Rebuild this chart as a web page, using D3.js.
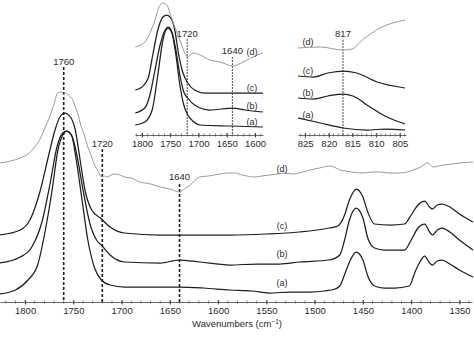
<!DOCTYPE html>
<html><head><meta charset="utf-8">
<script src="https://cdn.jsdelivr.net/npm/d3@7"></script>
<style>
html,body{margin:0;padding:0;background:#fff;}
svg{display:block;}
text{font-family:"Liberation Sans",Arial,Helvetica,sans-serif;fill:#2a2a2a;}
</style></head>
<body>
<svg id="c" width="474" height="339"></svg>
<script>
// ---------- DATA (wavenumber cm^-1, absorbance a.u.) ----------
const mainTicks = [1800,1750,1700,1650,1600,1550,1500,1450,1400,1350];
const inset1Ticks = [1800,1750,1700,1650,1600];
const inset2Ticks = [825,820,815,810,805];
const seriesNames = ["(a)","(b)","(c)","(d)"];
const mainMarkers = [1760,1720,1640];
const inset1Markers = [1720,1640];
const inset2Markers = [817];

const mainA = [[1826,0.06],[1810,0.10],[1797,0.20],[1787,0.35],[1779,0.70],[1772,1.10],[1766,1.50],[1761,1.65],[1757,1.69],[1752,1.65],[1747,1.40],[1741,1.00],[1735,0.60],[1728,0.32],[1721,0.20],[1712,0.15],[1697,0.13],[1670,0.13],[1640,0.13],[1615,0.12],[1588,0.10],[1565,0.09],[1547,0.07],[1525,0.08],[1505,0.08],[1490,0.09],[1479,0.11],[1474,0.14],[1468,0.28],[1463,0.40],[1457,0.48],[1450,0.40],[1445,0.24],[1438,0.14],[1428,0.12],[1417,0.12],[1402,0.14],[1396,0.28],[1391,0.38],[1386,0.44],[1381,0.37],[1378,0.35],[1373,0.39],[1368,0.40],[1360,0.36],[1350,0.30],[1336,0.23]];
const mainB = [[1826,0.37],[1805,0.43],[1793,0.53],[1782,0.80],[1774,1.17],[1767,1.53],[1761,1.67],[1757,1.69],[1751,1.63],[1746,1.43],[1740,1.10],[1733,0.77],[1726,0.60],[1721,0.55],[1712,0.45],[1697,0.38],[1660,0.37],[1640,0.40],[1619,0.38],[1588,0.35],[1560,0.36],[1536,0.36],[1516,0.38],[1485,0.40],[1474,0.45],[1469,0.60],[1464,0.80],[1457,0.92],[1450,0.82],[1445,0.62],[1438,0.52],[1428,0.50],[1407,0.50],[1400,0.60],[1393,0.72],[1386,0.76],[1381,0.68],[1378,0.65],[1373,0.70],[1368,0.72],[1360,0.68],[1350,0.60],[1336,0.50]];
const mainC = [[1826,0.65],[1805,0.70],[1795,0.80],[1785,1.07],[1776,1.43],[1769,1.70],[1764,1.83],[1759,1.87],[1753,1.83],[1748,1.70],[1743,1.40],[1738,1.10],[1731,0.90],[1722,0.82],[1712,0.73],[1697,0.67],[1660,0.65],[1620,0.65],[1588,0.65],[1550,0.66],[1516,0.68],[1485,0.72],[1476,0.74],[1469,0.85],[1464,1.00],[1457,1.11],[1450,1.03],[1445,0.88],[1438,0.76],[1422,0.75],[1407,0.76],[1400,0.85],[1393,0.95],[1386,0.99],[1381,0.93],[1378,0.91],[1373,0.95],[1368,0.96],[1360,0.93],[1350,0.86],[1336,0.78]];
const mainD = [[1826,1.37],[1815,1.39],[1805,1.42],[1797,1.46],[1790,1.53],[1784,1.62],[1779,1.73],[1775,1.82],[1771,1.93],[1766,2.07],[1762,2.08],[1760,2.05],[1759,2.07],[1756,2.06],[1753,2.03],[1750,1.99],[1748,1.93],[1745,1.85],[1743,1.77],[1739,1.66],[1735,1.53],[1731,1.43],[1728,1.35],[1724,1.28],[1721,1.23],[1718,1.24],[1715,1.23],[1711,1.25],[1707,1.26],[1702,1.25],[1697,1.23],[1690,1.22],[1681,1.18],[1670,1.16],[1660,1.13],[1650,1.11],[1640,1.08],[1635,1.11],[1629,1.15],[1619,1.23],[1610,1.24],[1598,1.26],[1590,1.27],[1583,1.27],[1575,1.25],[1562,1.23],[1555,1.24],[1547,1.25],[1538,1.26],[1531,1.27],[1522,1.26],[1516,1.27],[1505,1.30],[1495,1.32],[1485,1.34],[1480,1.33],[1474,1.30],[1468,1.29],[1462,1.28],[1450,1.27],[1440,1.28],[1433,1.28],[1422,1.27],[1412,1.27],[1404,1.28],[1398,1.30],[1390,1.33],[1383,1.37],[1377,1.33],[1372,1.34],[1366,1.35],[1358,1.36],[1350,1.37],[1336,1.38]];

const in1A = [[1812,0.10],[1795,0.13],[1782,0.25],[1772,0.60],[1763,0.95],[1754,1.07],[1747,1.02],[1740,0.80],[1733,0.50],[1726,0.30],[1719,0.20],[1710,0.14],[1697,0.10],[1644,0.09],[1586,0.08]];
const in1B = [[1812,0.22],[1795,0.27],[1786,0.40],[1777,0.65],[1768,0.90],[1759,1.05],[1754,1.08],[1747,1.03],[1740,0.85],[1733,0.60],[1726,0.43],[1719,0.37],[1707,0.30],[1680,0.25],[1639,0.27],[1618,0.25],[1586,0.23]];
const in1C = [[1812,0.45],[1800,0.48],[1789,0.57],[1781,0.80],[1772,1.05],[1763,1.18],[1756,1.20],[1749,1.17],[1742,1.05],[1735,0.80],[1728,0.63],[1719,0.52],[1707,0.45],[1689,0.42],[1586,0.42]];
const in1D = [[1812,0.88],[1795,0.93],[1780,1.10],[1768,1.30],[1763,1.32],[1756,1.30],[1751,1.23],[1742,1.08],[1733,0.95],[1719,0.78],[1710,0.82],[1697,0.80],[1680,0.75],[1662,0.73],[1639,0.69],[1621,0.73],[1596,0.80],[1586,0.82]];

const in2A = [[826.5,0.17],[821.8,0.12],[817.0,0.07],[811.9,0.05],[808.2,0.06],[803.9,0.05]];
const in2B = [[826.5,0.37],[823.3,0.36],[820.2,0.39],[817.0,0.41],[814.9,0.39],[811.3,0.28],[807.7,0.18],[803.9,0.11]];
const in2C = [[826.5,0.59],[823.3,0.58],[820.2,0.62],[817.0,0.64],[814.1,0.62],[809.8,0.53],[803.9,0.47]];
const in2D = [[826.5,0.87],[821.8,0.88],[817.0,0.85],[815.1,0.86],[812.9,0.95],[809.2,1.07],[803.9,1.15]];

// ---------- DRAWING ----------
const svg = d3.select("#c");
const black = "#1e1e1e", grey = "#9a9a9a";

function panel(cfg){
  const g = svg.append("g");
  const x = d3.scaleLinear().domain(cfg.xDomain).range(cfg.xRange);
  const y = d3.scaleLinear().domain(cfg.yDomain).range(cfg.yRange);
  const axisY = cfg.yRange[0] + cfg.axisOffset;
  // minor ticks
  const minor = d3.range(Math.ceil(Math.min(...cfg.xDomain)/cfg.minorStep)*cfg.minorStep, Math.max(...cfg.xDomain), cfg.minorStep);
  g.append("g").selectAll("line").data(minor).join("line")
    .attr("x1", d=>x(d)).attr("x2", d=>x(d))
    .attr("y1", axisY-1.5).attr("y2", axisY+1.5)
    .attr("stroke", "#555").attr("stroke-width", 0.7);
  const ax = d3.axisBottom(x).tickValues(cfg.ticks).tickSizeInner(2.5).tickSizeOuter(0).tickFormat(d3.format("d"));
  const ag = g.append("g").attr("transform", `translate(0,${axisY})`).call(ax);
  ag.select(".domain").attr("stroke", "#444").attr("stroke-width", 0.8);
  ag.selectAll(".tick line").attr("stroke", "#444").attr("y1",-2);
  ag.selectAll(".tick text").attr("font-size", cfg.fs).attr("fill","#2a2a2a").attr("y", cfg.labelY).attr("dy","0.71em")
    .style("font-family",'"Liberation Sans",Arial,sans-serif');
  // markers
  cfg.markers.forEach((m,i)=>{
    g.append("line").attr("x1",x(m)).attr("x2",x(m)).attr("y1",cfg.markerTop[i]).attr("y2",axisY)
      .attr("stroke", black).attr("stroke-width", cfg.markerW).attr("stroke-dasharray", cfg.markerDash);
    g.append("text").attr("x",x(m)).attr("y",cfg.markerLabelY[i]).attr("text-anchor","middle")
      .attr("font-size", cfg.fs).text(m);
  });
  const line = d3.line().x(d=>x(d[0])).y(d=>y(d[1])).curve(d3.curveMonotoneX);
  cfg.series.forEach((s,i)=>{
    g.append("path").datum(s).attr("d", line).attr("fill","none")
      .attr("stroke", i===3 ? grey : black).attr("stroke-width", i===3 ? 1 : 1.25)
      .attr("stroke-linejoin","round");
  });
  seriesNames.forEach((n,i)=>{
    g.append("text").attr("x", cfg.labelX).attr("y", cfg.seriesLabelY[i]).attr("text-anchor","middle")
      .attr("font-size", cfg.fs-0.5).text(n);
  });
  return {x,y};
}

// main chart
panel({
  xDomain:[1826,1337], xRange:[0,472], yDomain:[0,2.2], yRange:[300,80], axisOffset:2,
  ticks: mainTicks, minorStep:10, fs:9.5, labelY:5,
  markers: mainMarkers, markerTop:[67,149,184], markerLabelY:[64.5,146.5,179.5],
  markerW:1.6, markerDash:"3,2",
  series:[mainA,mainB,mainC,mainD], labelX:282, seriesLabelY:[286,257,229,172]
});
// inset 1
panel({
  xDomain:[1812.4,1585.8], xRange:[135,263], yDomain:[0,1.35], yRange:[135,0], axisOffset:0,
  ticks: inset1Ticks, minorStep:10, fs:9.5, labelY:5,
  markers: inset1Markers, markerTop:[39,57], markerLabelY:[37,53.5],
  markerW:0.8, markerDash:"2,1",
  series:[in1A,in1B,in1C,in1D], labelX:252, seriesLabelY:[125,109,91,55]
});
// inset 2
panel({
  xDomain:[826.5,803.7], xRange:[298,406], yDomain:[0,1.35], yRange:[135,0], axisOffset:0,
  ticks: inset2Ticks, minorStep:1, fs:9.5, labelY:5,
  markers: inset2Markers, markerTop:[40], markerLabelY:[37],
  markerW:0.8, markerDash:"2,1",
  series:[in2A,in2B,in2C,in2D], labelX:308, seriesLabelY:[118,96,74,45]
});

// axis title
const t = svg.append("text").attr("x",237).attr("y",327).attr("text-anchor","middle").attr("font-size",9.5);
t.append("tspan").text("Wavenumbers (cm");
t.append("tspan").attr("font-size",6.5).attr("dy",-3.5).text("−1");
t.append("tspan").attr("dy",3.5).text(")");
</script>
</body></html>
